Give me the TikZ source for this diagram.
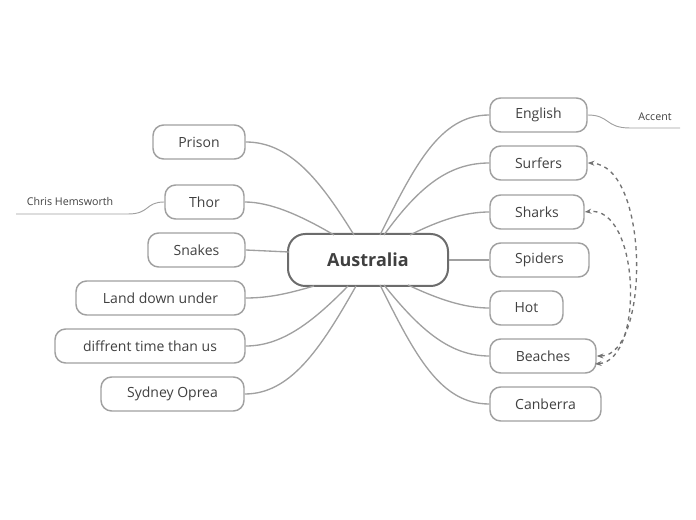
\documentclass[tikz,border=0pt]{standalone}
\usepackage{fontspec}
\usetikzlibrary{arrows.meta}
\setmainfont{Open Sans}
\definecolor{bd}{HTML}{A0A0A0}
\definecolor{tx}{HTML}{404040}
\begin{document}
\begin{tikzpicture}[x=0.75pt,y=-0.75pt,
  leaf/.style={draw=bd,line width=1.1pt,rounded corners=8pt,text=tx,font=\fontsize{10.5}{12}\selectfont,minimum height=25.5pt,inner xsep=0pt},
  lab/.style={text=tx,font=\fontsize{8}{9}\selectfont},
  con/.style={draw=bd,line width=1pt},
  dsh/.style={draw=gray!90!black,line width=1pt,dashed,{Stealth[length=5pt]}-{Stealth[length=5pt]}}]
\useasboundingbox (0,0) rectangle (696,520);
\node[draw=gray!85!black,line width=1.5pt,rounded corners=13pt,minimum width=120pt,minimum height=39pt,text=tx,font=\fontsize{13.5}{15}\selectfont\bfseries] (c) at (368,260) {Australia};
\node[leaf,minimum width=72.75pt] (en) at (538.5,115) {English};
\node[leaf,minimum width=72.75pt] (su) at (538.5,163) {Surfers};
\node[leaf,minimum width=70.5pt] (sh) at (537,212) {Sharks};
\node[leaf,minimum width=74.25pt] (sp) at (539.5,260) {Spiders};
\node[leaf,minimum width=54.75pt] (ho) at (526.5,308) {Hot};
\node[leaf,minimum width=79.5pt] (be) at (543,356) {Beaches};
\node[leaf,minimum width=83.25pt] (ca) at (545.5,404) {Canberra};
\node[leaf,minimum width=69pt] (pr) at (199,142) {Prison};
\node[leaf,minimum width=59.25pt] (th) at (204.5,202) {Thor};
\node[leaf,minimum width=72.75pt] (sn) at (196.5,250) {Snakes};
\node[leaf,minimum width=126.75pt] (ld) at (160.5,298) {Land down under};
\node[leaf,minimum width=142.5pt] (dt) at (150,346) {diffrent time than us};
\node[leaf,minimum width=107.25pt] (so) at (172.5,394) {Sydney Oprea};
\node[lab] (ac) at (655,117) {Accent};
\node[lab] (ch) at (70,202) {Chris Hemsworth};
\coordinate (acl) at (680,128);
\coordinate (chl) at (16,214);
% right connectors
\draw[con] (380,235) .. controls (415,165) and (440,115) .. (en.west);
\draw[con] (384,235) .. controls (420,185) and (450,163) .. (su.west);
\draw[con] (410,235) .. controls (440,220) and (465,212) .. (sh.west);
\draw[con] (c.east) -- (sp.west);
\draw[con] (408,285) .. controls (440,300) and (465,308) .. (ho.west);
\draw[con] (384,285) .. controls (420,330) and (450,356) .. (be.west);
\draw[con] (380,285) .. controls (415,355) and (440,404) .. (ca.west);
% left connectors
\draw[con] (354,235) .. controls (320,180) and (290,142) .. (pr.east);
\draw[con] (334,235) .. controls (300,215) and (270,202) .. (th.east);
\draw[con] (289,252) -- (sn.east);
\draw[con] (314,286) .. controls (290,293) and (270,298) .. (ld.east);
\draw[con] (348,286) .. controls (310,325) and (280,346) .. (dt.east);
\draw[con] (356,286) .. controls (320,350) and (290,394) .. (so.east);
% side labels
\draw[con,line width=0.7pt] (en.east) .. controls (610,115) and (605,128) .. (630,128) -- (acl);
\draw[con,line width=0.7pt] (th.west) .. controls (145,202) and (150,214) .. (128,214) -- (chl);
% dashed
\draw[dsh] (be.east) .. controls (650,356) and (650,165) .. (su.east);
\draw[dsh] (595,364) .. controls (645,360) and (640,205) .. (sh.east);
\end{tikzpicture}
\end{document}
